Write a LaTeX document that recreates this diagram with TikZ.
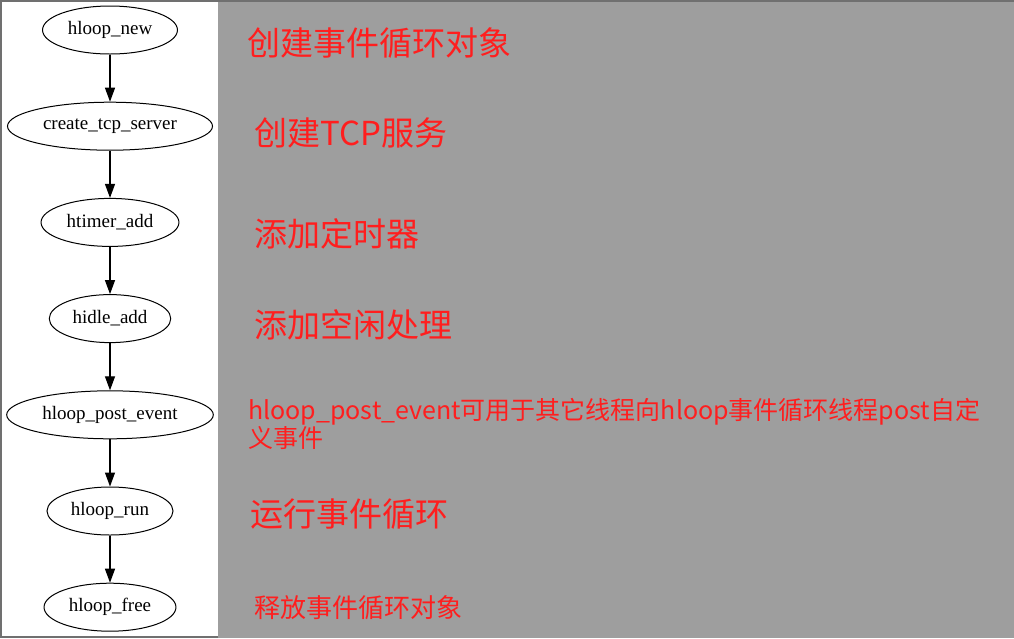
\documentclass[tikz,border=0pt]{standalone}
\usepackage{fontspec}
\setmainfont{Liberation Serif}
\newfontfamily\cjk{Noto Sans CJK SC}
\usetikzlibrary{arrows.meta, positioning, shapes.geometric}

\definecolor{panelgray}{RGB}{158,158,158}
\definecolor{framegray}{RGB}{112,112,112}
\definecolor{notered}{RGB}{255,30,30}

\begin{document}
\begin{tikzpicture}
        [x=1pt, y=1pt,
         node distance=47.2pt,
         call/.style={
             ellipse,
             draw,
             line width=1pt,
             minimum height=48pt,
             inner xsep=5.5pt,
             font=\fontsize{19}{20}\selectfont
         },
         flow/.style={
             black,
             -{Triangle[length=14pt,width=10pt]},
             line width=1.2pt
         },
         note/.style={
             inner sep=0pt,
             anchor=west,
             align=left,
             text=notered,
             font=\cjk\fontsize{33}{36}\selectfont
         }
         ]
        \useasboundingbox (0,0) rectangle (1014,-638);
        \fill[white] (0,0) rectangle (218,-638);
        \fill[panelgray] (218,0) rectangle (1014,-638);
        \draw[framegray, line width=1.5pt] (218,-637) -- (1,-637) -- (1,-1) -- (1014,-1);

        \node[call] (new) at (110,-30) {hloop\_new};
        \node[call, below=of new] (tcp) {create\_tcp\_server};
        \node[call, below=of tcp] (timer) {htimer\_add};
        \node[call, below=of timer] (idle) {hidle\_add};
        \node[call, below=of idle] (post) {hloop\_post\_event};
        \node[call, below=of post] (run) {hloop\_run};
        \node[call, below=of run] (free) {hloop\_free};
        \foreach \a/\b in {new/tcp, tcp/timer, timer/idle, idle/post, post/run, run/free}
            \draw[flow] (\a) -- (\b);

        % notes on the grey side
        \node[note] (newnote) at (247,-43) {创建事件循环对象};
        \node[note] (tcpnote) at (254,-133) {创建TCP服务};
        \node[note] (timernote) at (254,-234) {添加定时器};
        \node[note] (idlenote) at (254,-325) {添加空闲处理};
        \node[note, font=\cjk\fontsize{25}{28}\selectfont] (postnote) at (248,-424)
            {hloop\_post\_event可用于其它线程向hloop事件循环线程post自定\\义事件};
        \node[note] (runnote) at (250,-514) {运行事件循环};
        \node[note, font=\cjk\fontsize{26}{28}\selectfont] (freenote) at (254,-608) {释放事件循环对象};
    \end{tikzpicture}
\end{document}
